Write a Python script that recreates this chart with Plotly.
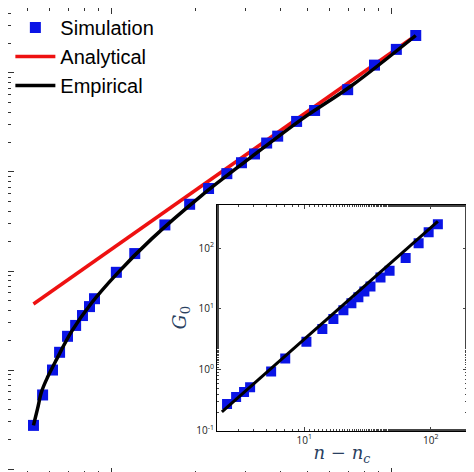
import plotly.graph_objects as go

# Main panel: G vs n
sim_n = [5.26,5.67,6.15,6.52,6.96,7.44,7.87,8.34,8.69,10.4,12.1,15.5,19.0,22.2,25.8,29.1,32.4,35.8,39.2,45.8,53.1,69.7,86.9,104,122]
sim_g = [0.0276,0.056,0.1,0.151,0.219,0.282,0.355,0.437,0.525,0.97,1.50,2.92,4.72,6.81,9.62,12.4,15.2,19.6,23.0,32.4,41.8,67.8,120,173,239]
ana_n = [5.26,21.0,122]
ana_g = [0.464,7.30,239]
emp_n = [5.26,5.44,5.62,5.91,6.36,7.19,8.48,10.4,13.9,21.0,31.6,47.7,71.9,122]
emp_g = [0.0276,0.0407,0.0603,0.0849,0.128,0.244,0.475,0.925,2.11,5.81,14.2,34.0,74.2,239]
# Inset: G0 vs n - nc
ins_x = [2.45,2.89,3.34,3.73,5.47,7.07,10.4,13.9,17.0,20.4,23.6,26.8,29.9,33.4,40.1,47.3,63.4,80.3,96.4,114]
ins_y = [0.275,0.357,0.43,0.519,0.94,1.53,2.88,4.69,6.81,9.53,12.4,15.5,19.4,23.3,32.7,42.4,68.9,120,182,245]
ins_line_x = [2.23,114]
ins_line_y = [0.204,274]
ins_xticks = [10, 100]
ins_xtext = ["10<sup>1</sup>", "10<sup>2</sup>"]
ins_yticks = [0.1, 1, 10, 100]
ins_ytext = ["10<sup>-1</sup>", "10<sup>0</sup>", "10<sup>1</sup>", "10<sup>2</sup>"]

blue = "#0a14e6"
fig = go.Figure()
fig.add_trace(go.Scatter(x=ana_n, y=ana_g, mode="lines", name="Analytical", legendrank=2,
                         line=dict(color="#ee1111", width=3.5)))
fig.add_trace(go.Scatter(x=sim_n, y=sim_g, mode="markers", name="Simulation", legendrank=1,
                         marker=dict(symbol="square", size=11, color=blue)))
fig.add_trace(go.Scatter(x=emp_n, y=emp_g, mode="lines", name="Empirical", legendrank=3,
                         line=dict(color="black", width=3.5, shape="spline")))
fig.add_trace(go.Scatter(x=ins_x, y=ins_y, mode="markers", showlegend=False,
                         marker=dict(symbol="square", size=10, color=blue),
                         xaxis="x2", yaxis="y2"))
fig.add_trace(go.Scatter(x=ins_line_x, y=ins_line_y, mode="lines", showlegend=False,
                         line=dict(color="black", width=3), xaxis="x2", yaxis="y2"))

ax_common = dict(type="log", showgrid=False, zeroline=False, mirror="ticks",
                 ticks="inside", ticklen=6, tickcolor="#333",
                 showline=False, dtick=1, showticklabels=False,
                 minor=dict(ticks="inside", ticklen=3, tickcolor="#333"))
inset_common = dict(type="log", showgrid=False, zeroline=False, showline=True, mirror="ticks",
                    linecolor="black", linewidth=1, ticks="inside", ticklen=4,
                    tickfont=dict(size=10, color="#222"),
                    minor=dict(ticks="inside", ticklen=2))
fig.update_layout(
    width=474, height=472, margin=dict(l=0, r=0, t=0, b=0),
    paper_bgcolor="white", plot_bgcolor="white",
    xaxis=dict(range=[0.630, 2.323], domain=[0, 1], **ax_common),
    yaxis=dict(range=[-2.05, 2.656], domain=[0, 1], **ax_common),
    xaxis2=dict(range=[0.310, 2.286], domain=[0.441, 0.968], anchor="y2",
                tickvals=ins_xticks, ticktext=ins_xtext,
                title=dict(text="<i>n</i> − <i>n</i><sub><i>c</i></sub>", standoff=0,
                           font=dict(family="DejaVu Serif", size=18)), **inset_common),
    yaxis2=dict(range=[-1, 2.713], domain=[0.093, 0.578], anchor="x2",
                tickvals=ins_yticks, ticktext=ins_ytext,
                title=dict(text="<i>G</i><sub>0</sub>", standoff=4,
                           font=dict(family="DejaVu Serif", size=19)), **inset_common),
    legend=dict(x=0.005, y=1.0, xanchor="left", yanchor="top", bgcolor="rgba(0,0,0,0)",
                font=dict(family="Liberation Sans", size=20, color="black"),
                traceorder="normal", itemwidth=40, tracegroupgap=0),
    showlegend=True,
)
fig.write_html("out.html")
